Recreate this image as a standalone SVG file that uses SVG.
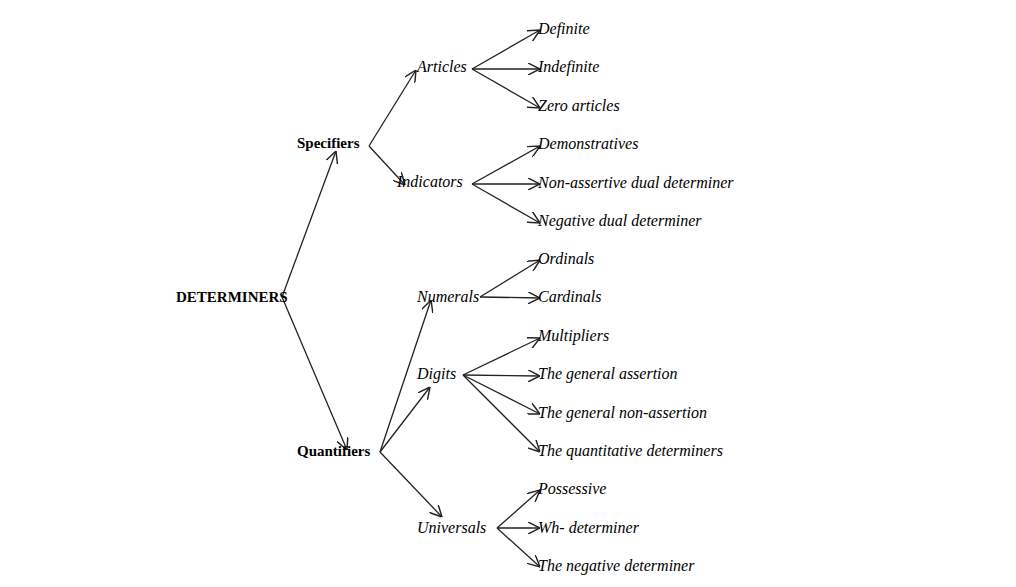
<svg xmlns="http://www.w3.org/2000/svg" width="1016" height="587" viewBox="0 0 1016 587">
<style>
.b{font-family:"Liberation Serif",serif;font-weight:bold;font-size:15px;fill:#000}
.i{font-family:"Liberation Serif",serif;font-style:italic;font-size:16px;fill:#000}
.c line{stroke:#222;stroke-width:1.3;marker-end:url(#a)}
</style>
<defs><marker id="a" viewBox="0 0 10 10" refX="10" refY="5" markerWidth="12" markerHeight="12" markerUnits="userSpaceOnUse" orient="auto"><path d="M0,0 L10,5 L0,10" fill="none" stroke="#222" stroke-width="1.2"/></marker></defs>
<rect width="1016" height="587" fill="#fff"/>
<g class="c">
<line x1="282" y1="297" x2="336" y2="151"/>
<line x1="282" y1="297" x2="347" y2="450"/>
<line x1="369" y1="146" x2="416" y2="70"/>
<line x1="369" y1="146" x2="405" y2="185"/>
<line x1="472" y1="69" x2="540" y2="30"/>
<line x1="472" y1="69" x2="540" y2="69"/>
<line x1="472" y1="69" x2="540" y2="108"/>
<line x1="472" y1="184" x2="540" y2="146"/>
<line x1="472" y1="184" x2="540" y2="184"/>
<line x1="472" y1="184" x2="540" y2="223"/>
<line x1="380" y1="452" x2="431" y2="300"/>
<line x1="380" y1="452" x2="430" y2="387"/>
<line x1="380" y1="452" x2="442" y2="517"/>
<line x1="480" y1="297" x2="540" y2="260"/>
<line x1="480" y1="297" x2="540" y2="298"/>
<line x1="463" y1="375" x2="540" y2="338"/>
<line x1="463" y1="375" x2="540" y2="376"/>
<line x1="463" y1="375" x2="540" y2="414"/>
<line x1="463" y1="375" x2="540" y2="452"/>
<line x1="497" y1="528" x2="540" y2="490"/>
<line x1="497" y1="528" x2="540" y2="528"/>
<line x1="497" y1="528" x2="540" y2="567"/>
</g>
<g id="determiners"><text class="b" x="176" y="302">DETERMINERS</text></g>
<g id="specifiers"><text class="b" x="297" y="148">Specifiers</text></g>
<g id="quantifiers"><text class="b" x="297" y="456">Quantifiers</text></g>
<g id="articles"><text class="i" x="417" y="72">Articles</text></g>
<g id="indicators"><text class="i" x="397" y="187">Indicators</text></g>
<g id="numerals"><text class="i" x="417" y="302">Numerals</text></g>
<g id="digits"><text class="i" x="417" y="379">Digits</text></g>
<g id="universals"><text class="i" x="417" y="533">Universals</text></g>
<g id="definite"><text class="i" x="538" y="34">Definite</text></g>
<g id="indefinite"><text class="i" x="538" y="72">Indefinite</text></g>
<g id="zero"><text class="i" x="538" y="111">Zero articles</text></g>
<g id="demonstratives"><text class="i" x="538" y="149">Demonstratives</text></g>
<g id="nonassertive"><text class="i" x="538" y="188">Non-assertive dual determiner</text></g>
<g id="negativedual"><text class="i" x="538" y="226">Negative dual determiner</text></g>
<g id="ordinals"><text class="i" x="538" y="264">Ordinals</text></g>
<g id="cardinals"><text class="i" x="538" y="302">Cardinals</text></g>
<g id="multipliers"><text class="i" x="538" y="341">Multipliers</text></g>
<g id="general"><text class="i" x="538" y="379">The general assertion</text></g>
<g id="nonassertion"><text class="i" x="538" y="418">The general non-assertion</text></g>
<g id="quantitative"><text class="i" x="538" y="456">The quantitative determiners</text></g>
<g id="possessive"><text class="i" x="538" y="494">Possessive</text></g>
<g id="wh"><text class="i" x="538" y="533">Wh- determiner</text></g>
<g id="negative"><text class="i" x="538" y="571">The negative determiner</text></g>
</svg>
